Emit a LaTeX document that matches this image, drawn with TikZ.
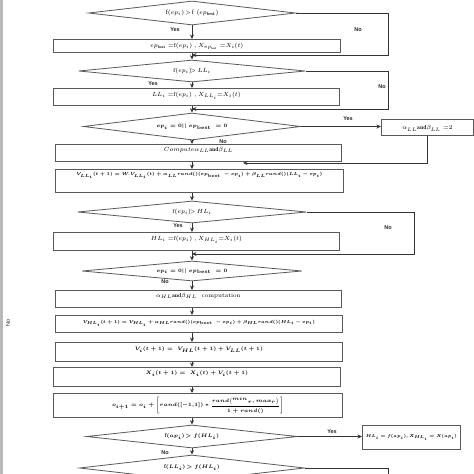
\documentclass[tikz,border=0pt]{standalone}
\usepackage{amsmath}
\usepackage{graphicx}
\usepackage{fontspec}
\newfontfamily\lblfont{Liberation Sans}
\usetikzlibrary{shapes.geometric,arrows.meta,calc}
\definecolor{boxc}{gray}{0.35}
\definecolor{linec}{gray}{0.2}
\newcommand\fmfs{\fontsize{5.8}{7}\selectfont}
\newcommand\fmbf{\fontsize{5.5}{7}\selectfont\boldmath}
\newcommand\bst{\mathbf{best}}
\newcommand\orr{\vert\vert}
\begin{document}
\begin{tikzpicture}[x=1pt,y=-1pt]
\tikzset{
 box/.style={draw=boxc, line width=0.8pt, rectangle, inner sep=0pt, anchor=north west, font=\fmfs},
 dia/.style={draw=boxc, line width=0.8pt, diamond, inner sep=0pt, shape aspect=9, font=\fmfs},
 bm/.style={font=\fmbf},
 arr/.style={draw=linec, line width=0.8pt, -{Stealth[length=4.5pt,width=4pt]}},
 ln/.style={draw=linec, line width=0.8pt},
 lbl/.style={font=\lblfont\fontsize{5.5}{6}\selectfont\bfseries, inner sep=0pt, text=black!85}
}
\useasboundingbox (0,0) rectangle (474,474);
\clip (0,0) rectangle (474,474);
\fill[gray!55] (0,0) rectangle (2.5,474);

% nodes
\node[dia, font=\fontsize{6.5}{8}\selectfont, minimum width=207pt, minimum height=24pt] (d1) at (192,13) {$\mathrm{f}(ep_i)\!>\!\mathrm{f}\ (ep_{\bst})$};
\node[box, minimum width=287pt, text height=8pt, text depth=5pt] (b1) at (53,39) {$ep_{\bst}\ {=}\mathrm{f}(ep_i)\ ,X_{ep_{\bst}}\ {=}X_i(t)$};
\node[dia, minimum width=227pt, minimum height=22pt] (d2) at (192,71) {$\mathrm{f}(ep_i)\!{>}\,LL_i$};
\node[box, minimum width=286pt, text height=8pt, text depth=9pt] (b2) at (53,88) {$LL_i\ {=}\mathrm{f}(ep_i)\ ,X_{LL_i}{=}X_i(t)$};
\node[dia, bm, minimum width=217pt, minimum height=27pt] (d3) at (192,126.5) {$ep_i = 0 \orr\ ep_{\bst}\ = 0$};
\node[box, minimum width=92pt, text height=10.5pt, text depth=5.5pt] (by1) at (381,119) {$\alpha_{LL}\mathbf{and}\beta_{LL}\ {=}2$};
\node[box, minimum width=286pt, text height=7pt, text depth=10pt] (b3) at (55,144) {$Compute\alpha_{LL}\mathbf{and}\beta_{LL}$};
\node[box, bm, minimum width=288pt, text height=6.5pt, text depth=16.5pt] (b4) at (55,169) {\resizebox{246pt}{!}{$V_{LL_i}(t+1) = W.V_{LL_i}(t) + \alpha_{LL} rand()(ep_{\bst}\ - ep_i) + \beta_{LL} rand()(LL_i - ep_i)$}};
\node[dia, minimum width=229pt, minimum height=22pt] (d4) at (192,212) {$\mathrm{f}(ep_i)\!{>}\,HL_i$};
\node[box, minimum width=286pt, text height=8pt, text depth=10pt] (b5) at (53,232) {$HL_i\ {=}\mathrm{f}(ep_i)\ ,X_{HL_i}{=}X_i(t)$};
\node[dia, bm, minimum width=220pt, minimum height=20pt] (d5) at (192,271) {$ep_i = 0 \orr\ ep_{\bst}\ = 0$};
\node[box, minimum width=286pt, text height=7pt, text depth=10pt] (b6) at (55,290) {$\alpha_{HL}\mathbf{and}\beta_{HL}$\ \ computation};
\node[box, bm, minimum width=287pt, text height=8pt, text depth=9pt] (b7) at (55,315) {\resizebox{232pt}{!}{$V_{HL_i}(t+1) = V_{HL_i} + \alpha_{HL} rand()(ep_{\bst}\ - ep_i) + \beta_{HL} rand()(HL_i - ep_i)$}};
\node[box, bm, minimum width=287pt, text height=8pt, text depth=11pt] (b8) at (55,342) {$V_i(t+1) =\ V_{HL}(t+1) + V_{LL}(t+1)$};
\node[box, bm, minimum width=287pt, text height=7pt, text depth=12pt] (b9) at (53,367) {$X_i(t+1) =\ X_i(t) + V_i(t+1)$};
\node[box, bm, minimum width=289pt, minimum height=24pt] (b10) at (53,393) {$o_{i+1} = o_i + \left[rand([-1{,}1]) * \dfrac{rand\big({}^{min}{}_{r}, max_r\big)}{1 + rand()}\right]$};
\node[dia, bm, minimum width=211pt, minimum height=23pt] (d6) at (192,436.5) {$\mathrm{f}(ap_i)\!> f(HL_i)$};
\node[box, bm, minimum width=98pt, minimum height=24pt] (by2) at (362,425) {\resizebox{91pt}{!}{$HL_i = f(ap_i), X_{HL_i} = X(ap_i)$}};
\node[dia, bm, minimum width=225pt, minimum height=26pt] (d7) at (192,468) {\raisebox{3pt}{$\mathrm{f}(LL_i)\!> f(HL_i)$}};

% helper coordinates
\coordinate (c1) at (388,55); \coordinate (m1) at (192,55);
\coordinate (c2) at (388,109); \coordinate (m2) at (192,109);
\coordinate (m3) at (243,163);
\coordinate (c4) at (414,254); \coordinate (m4) at (192,254);
\coordinate (c7) at (388,490);

% connectors
\draw[arr] (d1.south) -- (d1.south |- b1.north);
\draw[arr] (d1.east) -| (c1) -- (m1);
\draw[arr] (b1.south -| d2.north) -- (d2.north);
\draw[arr] (d2.south) -- (d2.south |- b2.north);
\draw[arr] (d2.east) -| (c2) -- (m2);
\draw[arr] (b2.south -| d3.north) -- (d3.north);
\draw[arr] (d3.east) -- (d3.east -| by1.west);
\draw[arr] (d3.south) -- (d3.south |- b3.north);
\draw[arr] (by1.south) |- (m3);
\draw[arr] (b3.south -| m1) -- (b4.north -| m1);
\draw[arr] (b4.south -| m1) -- (d4.north);
\draw[arr] (d4.south) -- (d4.south |- b5.north);
\draw[arr] (d4.east) -| (c4) -- (m4);
\draw[arr] (b5.south -| m1) -- (d5.north);
\draw[arr] (d5.south) -- (d5.south |- b6.north);
\draw[arr] (b6.south -| m1) -- (b7.north -| m1);
\draw[arr] (b7.south -| m1) -- (b8.north -| m1);
\draw[arr] (b8.south -| m1) -- (b9.north -| m1);
\draw[arr] (b9.south -| m1) -- (b10.north -| m1);
\draw[arr] (b10.south -| m1) -- (d6.north);
\draw[arr] (d6.east) -- (d6.east -| by2.west);
\draw[arr] (d6.south) -- (d7.north);
\draw[ln] (d7.east) -| (c7);

% labels
\node[lbl] (y1) at (175,30) {Yes};
\node[lbl] (n1) at (358,30) {No};
\node[lbl] (y2) at (153,84) {Yes};
\node[lbl] (n2) at (382,87) {No};
\node[lbl] (y3) at (348,119) {Yes};
\node[lbl] (n3) at (223,142) {No};
\node[lbl] (y4) at (178,226) {Yes};
\node[lbl] (n4) at (388,228) {No};
\node[lbl] (n5) at (165,282) {No};
\node[lbl] (y6) at (332,432) {Yes};
\node[lbl] (n6) at (165,453) {No};
\node[lbl, rotate=90, font=\lblfont\fontsize{5.5}{6}\selectfont] (n7) at (8,323) {No};
\end{tikzpicture}
\end{document}
